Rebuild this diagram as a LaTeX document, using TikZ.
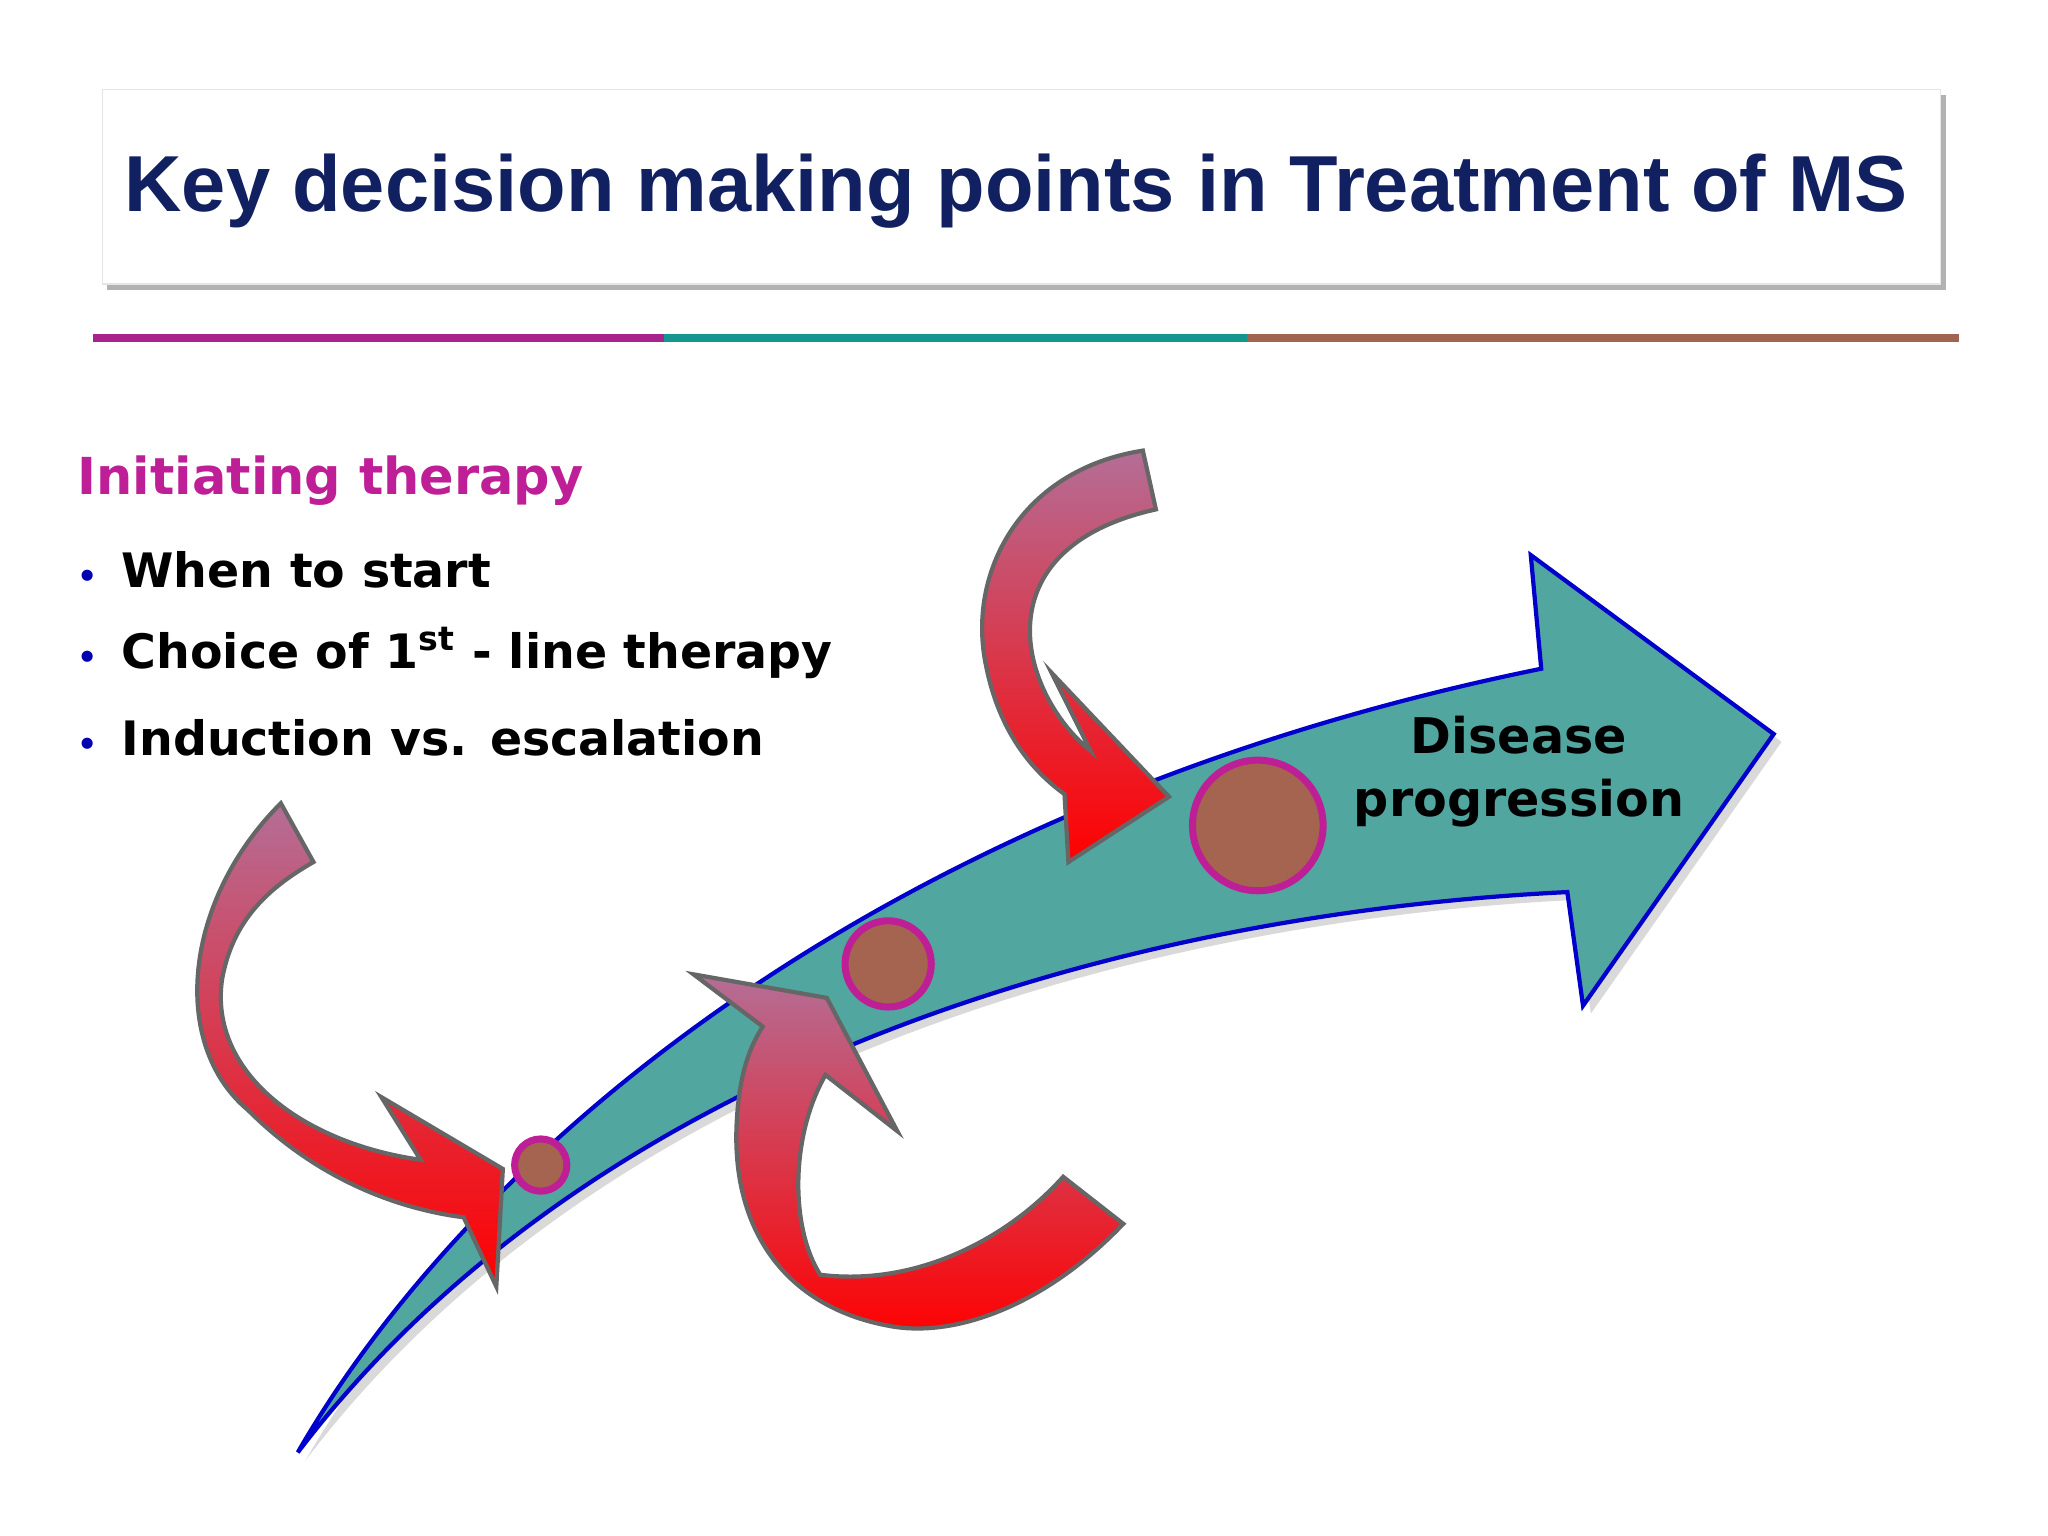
\documentclass[tikz,border=0pt]{standalone}
\usepackage{fontspec}
\setmainfont{Liberation Sans}
\newfontfamily\dv{DejaVu Sans}
\definecolor{navy}{RGB}{16,32,96}
\definecolor{mag}{RGB}{190,30,150}
\definecolor{teal1}{RGB}{82,166,160}
\definecolor{brn}{RGB}{164,100,80}
\definecolor{mauve}{RGB}{180,110,150}
\definecolor{lmag}{RGB}{168,36,140}
\definecolor{lteal}{RGB}{20,150,140}
\definecolor{lbrn}{RGB}{160,100,80}
\begin{document}
\begin{tikzpicture}[x=0.01306cm,y=-0.01306cm,
  ribbon/.style={draw=black!60,line width=1.2pt,shading angle=#1,top color=mauve,bottom color=red},
  dot/.style={circle,fill=brn,draw=mag,line width=2pt,inner sep=0pt},
  bul/.style={anchor=west,font=\dv\bfseries\fontsize{13.5}{16}\selectfont}]
\useasboundingbox (0,0) rectangle (1568,1176);
% title box
\fill[black!30] (82,73) rectangle (1490,222);
\node[draw=black!10,fill=white,minimum width={1407*0.01306cm},minimum height={149*0.01306cm},anchor=north west,inner sep=0pt] (tb) at (78,68) {};
\node[text=navy,font=\bfseries\fontsize{22.6}{26}\selectfont] (title) at (778,146) {Key decision making points in Treatment of MS};
% coloured rule
\coordinate (r0) at (71,259); \coordinate (r1) at (508,259); \coordinate (r2) at (955,259); \coordinate (r3) at (1500,259);
\draw[lmag,line width=2.2pt] (r0)--(r1);
\draw[lteal,line width=2.2pt] (r1)--(r2);
\draw[lbrn,line width=2.2pt] (r2)--(r3);
% text
\node[anchor=west,text=mag,font=\dv\bfseries\fontsize{14.5}{18}\selectfont] (init) at (50,368) {Initiating therapy};
\node[bul] (b1) at (50,436) {\textcolor{blue!70!black}{\fontsize{9}{12}\selectfont\textbullet}\hspace{0.5em}When to start};
\node[bul] (b2) at (50,500) {\textcolor{blue!70!black}{\fontsize{9}{12}\selectfont\textbullet}\hspace{0.5em}Choice of 1\textsuperscript{st} - line therapy};
\node[bul] (b3) at (50,565) {\textcolor{blue!70!black}{\fontsize{9}{12}\selectfont\textbullet}\hspace{0.5em}Induction vs. escalation};
% big arrow
\fill[black!15] (234,1118) .. controls (356,906) and (656,626) .. (1186,518) -- (1178,431) -- (1364,568) -- (1218,776) -- (1206,689) .. controls (856,706) and (456,826) .. (234,1118) -- cycle;
\draw[fill=teal1,draw=blue!80!black,line width=1.2pt] (228,1112) .. controls (350,900) and (650,620) .. (1180,512) -- (1172,425) -- (1358,562) -- (1212,770) -- (1200,683) .. controls (850,700) and (450,820) .. (228,1112) -- cycle;
\node[align=center,font=\dv\bfseries\fontsize{14}{18}\selectfont] (dp) at (1163,591) {Disease\\progression};
% dots
\node[dot,minimum size={40*0.01306cm}] (c1) at (414,892) {};
\node[dot,minimum size={66*0.01306cm}] (c2) at (680,738) {};
\node[dot,minimum size={100*0.01306cm}] (c3) at (963,632) {};
% red arrow 1
\path[ribbon=-20] (215,615) .. controls (140,690) and (130,800) .. (190,850) .. controls (240,900) and (300,925) .. (355,932) -- (380,985) -- (385,895) -- (292,840) -- (322,888) .. controls (230,875) and (160,820) .. (170,750) .. controls (178,705) and (205,680) .. (240,660) -- cycle;
% red arrow 2
\path[ribbon=130] (531,746) -- (633,764) -- (687,866) -- (632,823) .. controls (605,870) and (605,940) .. (628,976) .. controls (700,985) and (770,950) .. (814,901) -- (860,937) .. controls (800,1000) and (730,1025) .. (680,1015) .. controls (600,1000) and (560,940) .. (564,860) .. controls (566,820) and (575,800) .. (584,786) -- cycle;
% red arrow 3
\path[ribbon=0] (875,345) .. controls (780,360) and (740,440) .. (755,510) .. controls (765,560) and (790,590) .. (815,608) -- (818,660) -- (895,610) -- (805,515) -- (835,575) .. controls (780,530) and (750,420) .. (885,390) -- cycle;
\end{tikzpicture}
\end{document}
